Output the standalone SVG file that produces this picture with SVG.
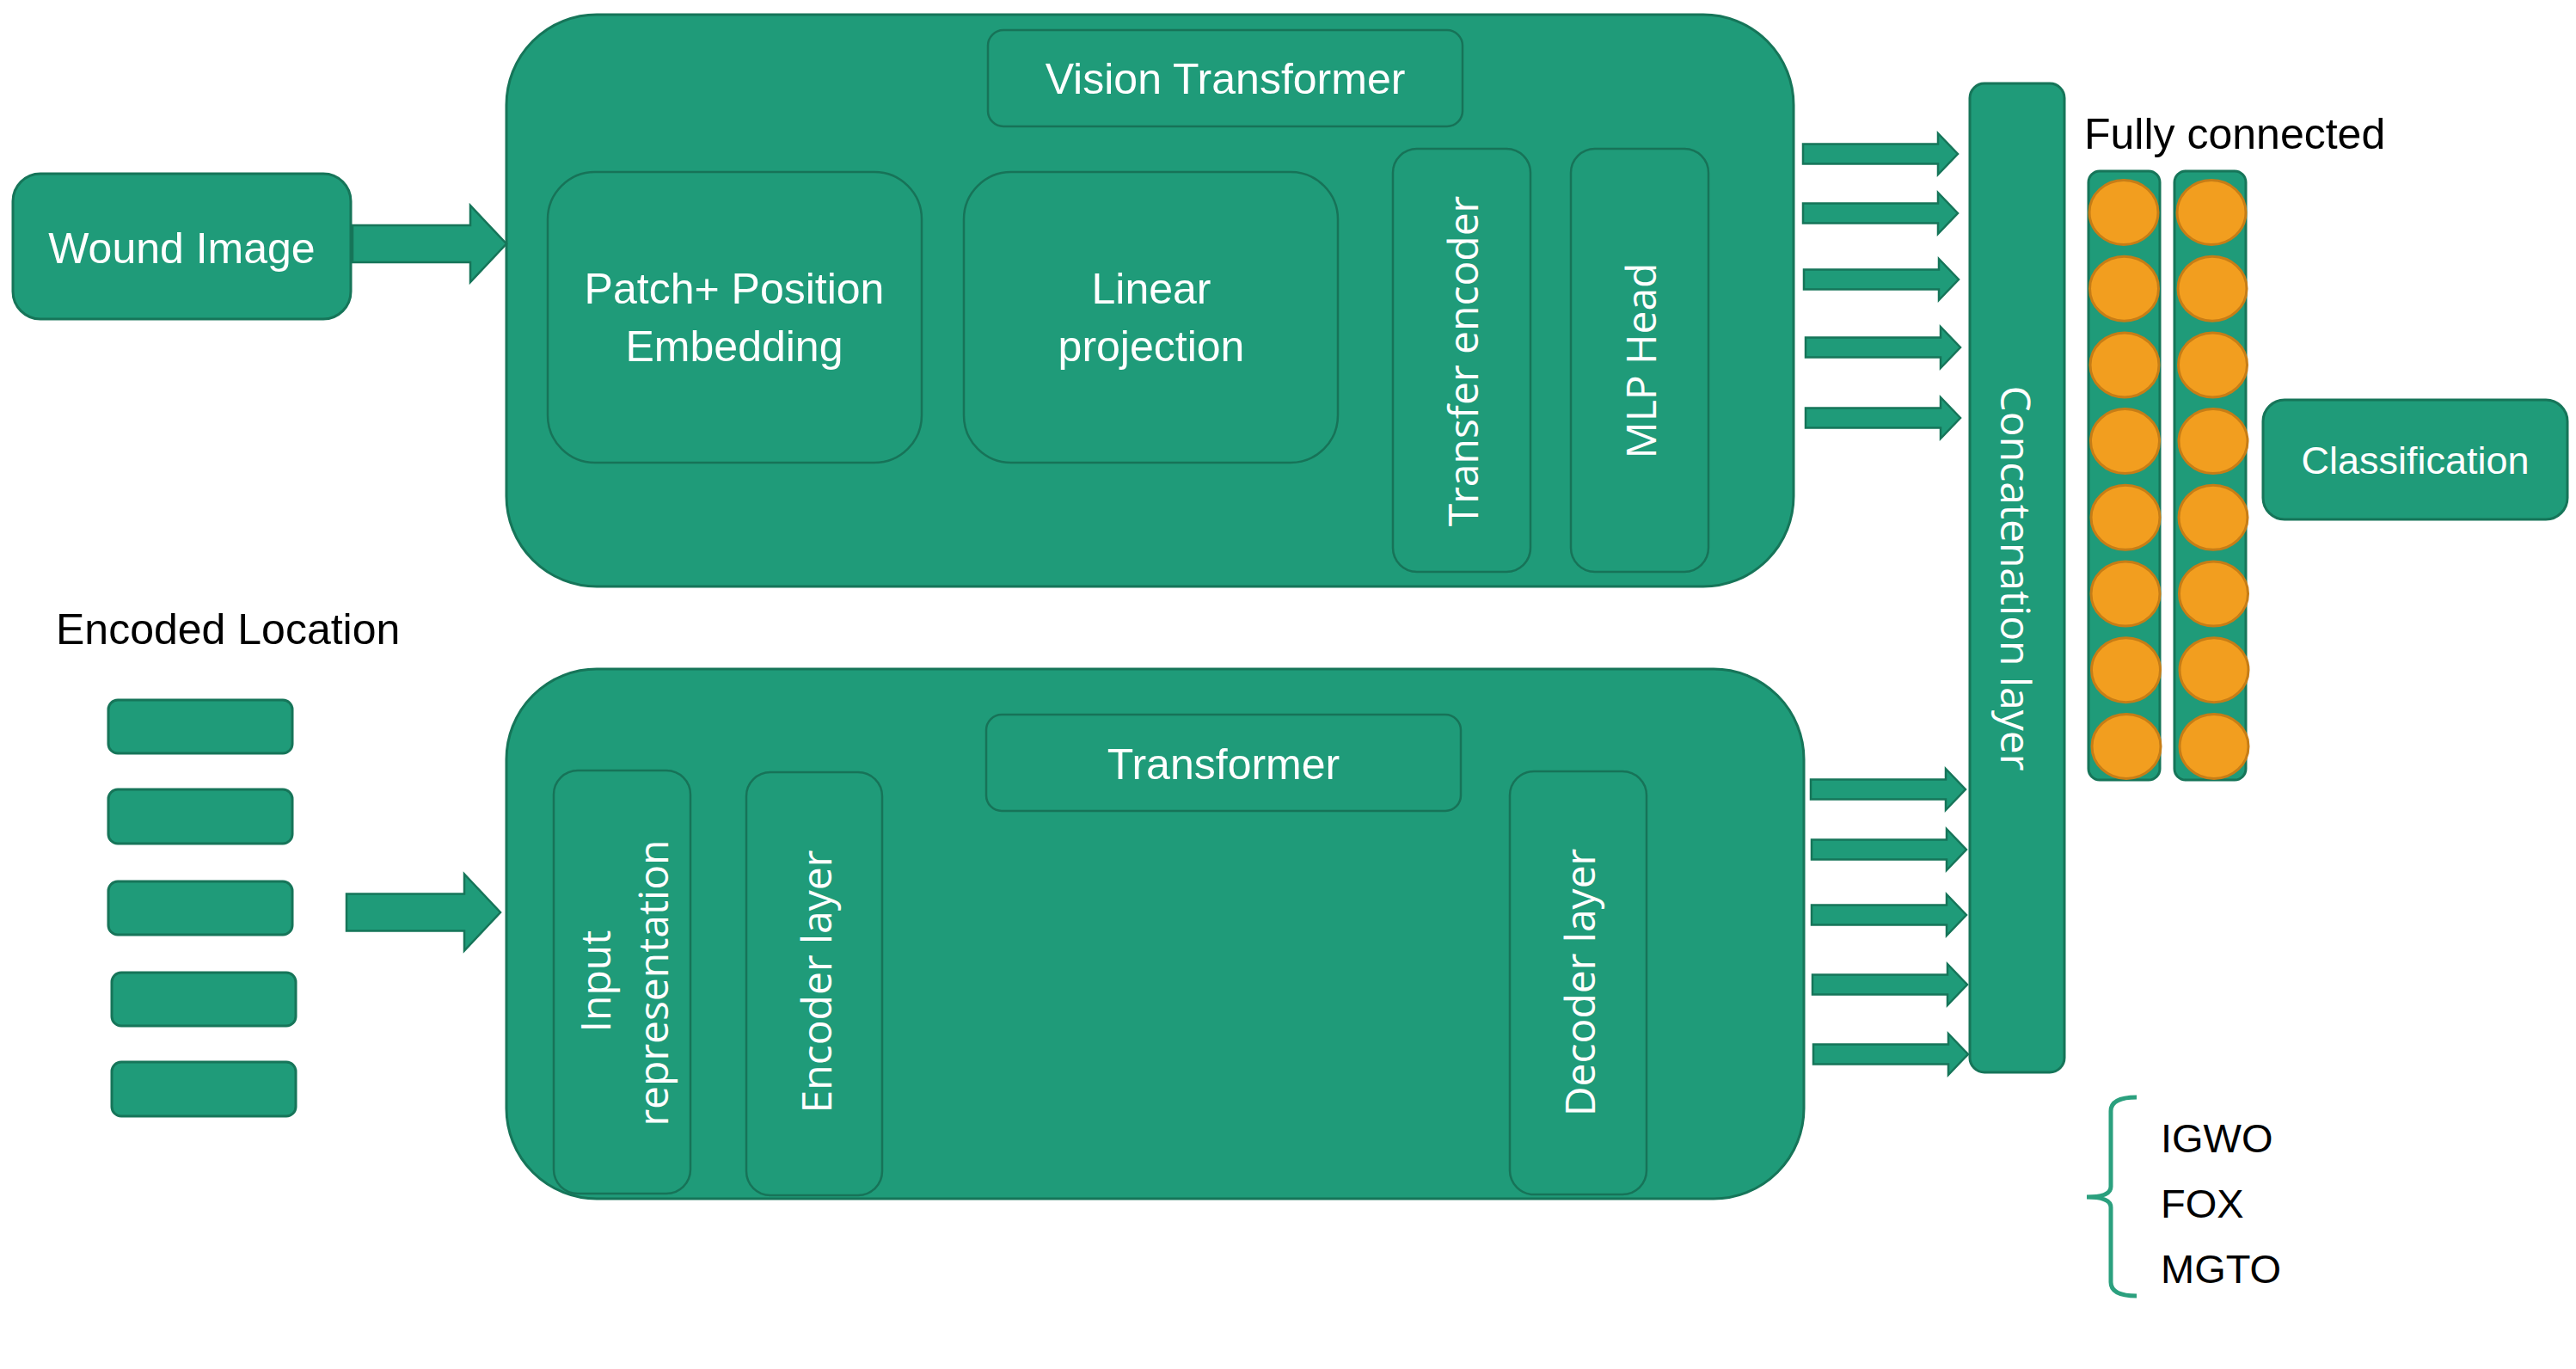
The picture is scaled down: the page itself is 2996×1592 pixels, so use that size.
<svg xmlns="http://www.w3.org/2000/svg" xmlns:xlink="http://www.w3.org/1999/xlink" width="2996" height="1592" viewBox="0 0 2996 1592">
<style>
.g{fill:#1F9B79;stroke:#167559;stroke-width:3}
.gi{fill:#1F9B79;stroke:#177358;stroke-width:2.5}
.o{fill:#F29E1F;stroke:#C77D16;stroke-width:3}
.t{font-family:"Liberation Sans",Arial,sans-serif;font-size:50px;fill:#fff;text-anchor:middle}
.tb{font-family:"Liberation Sans",Arial,sans-serif;font-size:50px;fill:#000}
.tr{font-family:"Open Sans","DejaVu Sans",sans-serif;font-size:48px;fill:#fff;text-anchor:middle}
.tl{font-family:"Liberation Sans",Arial,sans-serif;font-size:47px;fill:#000}
.ar{fill:#1F9B79;stroke:#167559;stroke-width:2.5;stroke-linejoin:miter}
</style>
<defs>
<path id="bigArrow" d="M-179,-21.5 L-42,-21.5 L-42,-44.5 L0,0 L-42,44.5 L-42,21.5 L-179,21.5 Z"/>
<path id="smallArrow" d="M-180,-11.5 L-23,-11.5 L-23,-24 L0,0 L-23,24 L-23,11.5 L-180,11.5 Z"/>
</defs>
<rect width="2996" height="1592" fill="#fff"/>

<g id="wound-image">
<rect class="g" x="15" y="202" width="393" height="169" rx="32"/>
<text class="t" x="211.5" y="306">Wound Image</text>
</g>

<g id="vision-transformer">
<rect class="g" x="589" y="17" width="1497" height="665" rx="105"/>
<g id="vt-label">
<rect class="gi" x="1149" y="35" width="552" height="112" rx="18"/>
<text class="t" x="1425" y="109">Vision Transformer</text>
</g>
<g id="patch-embedding">
<rect class="gi" x="637" y="200" width="435" height="338" rx="55"/>
<text class="t" x="854" y="353">Patch+ Position</text>
<text class="t" x="854" y="420">Embedding</text>
</g>
<g id="linear-projection">
<rect class="gi" x="1121" y="200" width="435" height="338" rx="55"/>
<text class="t" x="1339" y="353">Linear</text>
<text class="t" x="1339" y="420">projection</text>
</g>
<g id="transfer-encoder">
<rect class="gi" x="1620" y="173" width="160" height="492" rx="28"/>
<text class="tr" transform="translate(1701.5,420) rotate(-90)" y="17">Transfer encoder</text>
</g>
<g id="mlp-head">
<rect class="gi" x="1827" y="173" width="160" height="492" rx="28"/>
<text class="tr" transform="translate(1909,419.5) rotate(-90)" y="17">MLP Head</text>
</g>
</g>

<g id="encoded-location">
<text class="tb" x="65" y="749">Encoded Location</text>
<rect class="g" x="126" y="814" width="214" height="62" rx="11"/>
<rect class="g" x="126" y="918" width="214" height="63" rx="11"/>
<rect class="g" x="126" y="1025" width="214" height="62" rx="11"/>
<rect class="g" x="130" y="1131" width="214" height="62" rx="11"/>
<rect class="g" x="130" y="1235" width="214" height="63" rx="11"/>
</g>

<g id="transformer">
<rect class="g" x="589" y="778" width="1509" height="616" rx="105"/>
<g id="transformer-label">
<rect class="gi" x="1147" y="831" width="552" height="112" rx="18"/>
<text class="t" x="1423" y="906">Transformer</text>
</g>
<g id="input-representation">
<rect class="gi" x="644" y="896" width="159" height="492" rx="28"/>
<text class="tr" transform="translate(692.5,1141) rotate(-90)" y="17">Input</text>
<text class="tr" transform="translate(760,1143) rotate(-90)" y="17">representation</text>
</g>
<g id="encoder-layer">
<rect class="gi" x="868" y="898" width="158" height="492" rx="28"/>
<text class="tr" transform="translate(949.5,1141.5) rotate(-90)" y="17">Encoder layer</text>
</g>
<g id="decoder-layer">
<rect class="gi" x="1756" y="897" width="159" height="492" rx="28"/>
<text class="tr" transform="translate(1837.5,1142.5) rotate(-90)" y="17">Decoder layer</text>
</g>
</g>

<g id="concatenation-layer">
<rect class="g" x="2291" y="97" width="110" height="1150" rx="17"/>
<text class="tr" transform="translate(2344,672.5) rotate(90)" y="17">Concatenation layer</text>
</g>

<g id="fully-connected">
<text class="tb" x="2424" y="173">Fully connected</text>
<rect class="g" x="2429" y="199" width="83" height="708" rx="13"/>
<rect class="g" x="2529" y="199" width="83" height="708" rx="13"/>
<ellipse class="o" cx="2470" cy="247" rx="40" ry="37.5"/>
<ellipse class="o" cx="2470.5" cy="335.7" rx="40" ry="37.5"/>
<ellipse class="o" cx="2471" cy="424.4" rx="40" ry="37.5"/>
<ellipse class="o" cx="2471.5" cy="513.1" rx="40" ry="37.5"/>
<ellipse class="o" cx="2472" cy="601.8" rx="40" ry="37.5"/>
<ellipse class="o" cx="2472" cy="690.5" rx="40" ry="37.5"/>
<ellipse class="o" cx="2472.5" cy="779.2" rx="40" ry="37.5"/>
<ellipse class="o" cx="2473" cy="867.9" rx="40" ry="37.5"/>
<ellipse class="o" cx="2572" cy="247" rx="40" ry="37.5"/>
<ellipse class="o" cx="2573" cy="335.7" rx="40" ry="37.5"/>
<ellipse class="o" cx="2573.5" cy="424.4" rx="40" ry="37.5"/>
<ellipse class="o" cx="2574" cy="513.1" rx="40" ry="37.5"/>
<ellipse class="o" cx="2574" cy="601.8" rx="40" ry="37.5"/>
<ellipse class="o" cx="2574.5" cy="690.5" rx="40" ry="37.5"/>
<ellipse class="o" cx="2575" cy="779.2" rx="40" ry="37.5"/>
<ellipse class="o" cx="2575" cy="867.9" rx="40" ry="37.5"/>
</g>

<g id="classification">
<rect class="g" x="2632" y="465" width="354" height="139" rx="25"/>
<text class="t" x="2809" y="551" style="font-size:45px">Classification</text>
</g>

<g id="optimizers">
<path d="M2485,1276 Q2455,1276 2455,1292 L2455,1380 Q2455,1392 2427,1392 Q2455,1392 2455,1404 L2455,1491 Q2455,1507 2485,1507" fill="none" stroke="#2BA07E" stroke-width="5"/>
<text class="tl" x="2513" y="1340">IGWO</text>
<text class="tl" x="2513" y="1416">FOX</text>
<text class="tl" x="2513" y="1492">MGTO</text>
</g>

<g id="connectors">
<use xlink:href="#bigArrow" class="ar" transform="translate(589,283.5)"/>
<use xlink:href="#bigArrow" class="ar" transform="translate(582,1061)"/>
<use xlink:href="#smallArrow" class="ar" transform="translate(2277,179)"/>
<use xlink:href="#smallArrow" class="ar" transform="translate(2277,248)"/>
<use xlink:href="#smallArrow" class="ar" transform="translate(2278,325)"/>
<use xlink:href="#smallArrow" class="ar" transform="translate(2280,404)"/>
<use xlink:href="#smallArrow" class="ar" transform="translate(2280,486)"/>
<use xlink:href="#smallArrow" class="ar" transform="translate(2286,918)"/>
<use xlink:href="#smallArrow" class="ar" transform="translate(2287,988)"/>
<use xlink:href="#smallArrow" class="ar" transform="translate(2287,1064)"/>
<use xlink:href="#smallArrow" class="ar" transform="translate(2288,1145)"/>
<use xlink:href="#smallArrow" class="ar" transform="translate(2289,1226)"/>
</g>
</svg>
